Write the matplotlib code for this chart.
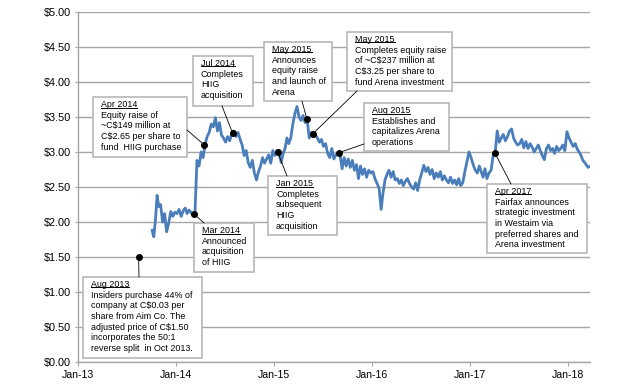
import numpy as np
import pandas as pd
import matplotlib
matplotlib.use("Agg")
import matplotlib.pyplot as plt
import matplotlib.dates as mdates
from matplotlib.patches import Rectangle
from matplotlib.lines import Line2D

plt.rcParams["font.family"] = ["Liberation Sans", "DejaVu Sans"]

LINE_COLOR = "#4a7ebb"
GRID_COLOR = "#a6a6a6"

# weekly-ish closing prices, one inner list per month
prices_2013 = [  # Oct - Dec
    [1.88, 1.79, 2.02, 2.38, 2.22], [2.25, 2.00, 2.12, 1.86], [1.98, 2.15, 2.08, 2.14],
]
prices_2014 = [
    [2.12, 2.18, 2.08, 2.16], [2.20, 2.12, 2.17, 2.14], [2.10, 2.11, 2.88, 2.80],
    [3.00, 2.92, 3.11, 3.22], [3.28, 3.40, 3.36, 3.49], [3.30, 3.42, 3.24, 3.20],
    [3.14, 3.22, 3.16, 3.27], [3.30, 3.22, 3.28, 3.18], [3.10, 2.95, 3.02, 2.85],
    [2.78, 2.88, 2.70, 2.60], [2.72, 2.80, 2.92, 2.84], [2.90, 2.96, 2.84, 3.02],
]
prices_2015 = [
    [2.95, 3.02, 2.98, 2.85], [2.98, 3.05, 3.20, 3.12], [3.20, 3.40, 3.55, 3.65],
    [3.50, 3.45, 3.52, 3.42], [3.47, 3.20, 3.28, 3.26], [3.24, 3.20, 3.14, 3.18],
    [3.08, 3.12, 2.98, 2.92], [3.05, 2.90, 2.96, 2.99], [2.95, 2.76, 2.92, 2.80],
    [2.90, 2.78, 2.88, 2.74], [2.82, 2.62, 2.80, 2.68], [2.76, 2.64, 2.74, 2.70],
]
prices_2016 = [
    [2.72, 2.62, 2.55, 2.48], [2.18, 2.42, 2.60, 2.68], [2.74, 2.64, 2.72, 2.60],
    [2.62, 2.55, 2.60, 2.52], [2.58, 2.62, 2.55, 2.50], [2.47, 2.56, 2.45, 2.60],
    [2.70, 2.81, 2.72, 2.78], [2.68, 2.75, 2.62, 2.70], [2.64, 2.72, 2.60, 2.66],
    [2.60, 2.56, 2.64, 2.55], [2.60, 2.53, 2.62, 2.52], [2.56, 2.72, 2.86, 3.00],
]
prices_2017 = [
    [2.92, 2.82, 2.74, 2.70], [2.80, 2.72, 2.64, 2.76], [2.62, 2.70, 2.74, 2.95],
    [3.00, 3.30, 3.14, 3.20], [3.25, 3.16, 3.22, 3.30], [3.33, 3.20, 3.14, 3.10],
    [3.12, 3.18, 3.06, 3.15], [3.05, 3.12, 3.07, 3.00], [3.05, 3.10, 3.02, 2.95],
    [2.89, 3.05, 3.10, 3.02], [3.05, 2.98, 3.08, 3.02], [3.05, 3.10, 3.02, 3.29],
]
prices_2018 = [  # Jan - Mar
    [3.20, 3.14, 3.08, 3.12], [3.04, 3.00, 2.95, 2.88], [2.84, 2.78, 2.80],
]

# events: (date, price, header, body)
events = [
    ("2013-08-15", 1.50, "Aug 2013", "Insiders purchase 44% of\ncompany at C$0.03 per\nshare from Aim Co. The\nadjusted price of C$1.50\nincorporates the 50:1\nreverse split  in Oct 2013."),
    ("2014-03-11", 2.11, "Mar 2014", "Announced\nacquisition\nof HIIG"),
    ("2014-04-17", 3.10, "Apr 2014", "Equity raise of\n~C$149 million at\nC$2.65 per share to\nfund  HIIG purchase"),
    ("2014-07-31", 3.27, "Jul 2014", "Completes\nHIIG\nacquisition"),
    ("2015-01-15", 3.00, "Jan 2015", "Completes\nsubsequent\nHIIG\nacquisition"),
    ("2015-05-04", 3.47, "May 2015", "Announces\nequity raise\nand launch of\nArena"),
    ("2015-05-26", 3.26, "May 2015", "Completes equity raise\nof ~C$237 million at\nC$3.25 per share to\nfund Arena investment"),
    ("2015-08-31", 2.99, "Aug 2015", "Establishes and\ncapitalizes Arena\noperations"),
    ("2017-04-03", 2.99, "Apr 2017", "Fairfax announces\nstrategic investment\nin Westaim via\npreferred shares and\nArena investment"),
]

# box (x0, y0, x1, y1) and leader anchor, in axes fraction
boxes = [
    ((0.0098, 0.0114, 0.2422, 0.2429), (0.1191, 0.2429)),
    ((0.2266, 0.2571, 0.3438, 0.3971), (0.2461, 0.3971)),
    ((0.0293, 0.5857, 0.2129, 0.7571), (0.2129, 0.6629)),
    ((0.2246, 0.7314, 0.3418, 0.8743), (0.2813, 0.7314)),
    ((0.3711, 0.3629, 0.5059, 0.5314), (0.4082, 0.5314)),
    ((0.3633, 0.7457, 0.4961, 0.9143), (0.4375, 0.7457)),
    ((0.5254, 0.7743, 0.7305, 0.9429), (0.5449, 0.7743)),
    ((0.5586, 0.6029, 0.7246, 0.7400), (0.5586, 0.6229)),
    ((0.7988, 0.3114, 0.9941, 0.5086), (0.8457, 0.5086)),
]


def month_dates(first_month, months):
    dates, vals = [], []
    start = pd.Timestamp(first_month)
    for k, week_vals in enumerate(months):
        m0 = start + pd.DateOffset(months=k)
        ndays = m0.days_in_month
        for i, v in enumerate(week_vals):
            dates.append(m0 + pd.Timedelta(days=(i + 0.5) * ndays / len(week_vals)))
            vals.append(v)
    return dates, vals


all_dates, all_vals = [], []
for first, chunk in [("2013-10-01", prices_2013), ("2014-01-01", prices_2014),
                     ("2015-01-01", prices_2015), ("2016-01-01", prices_2016),
                     ("2017-01-01", prices_2017), ("2018-01-01", prices_2018)]:
    d, v = month_dates(first, chunk)
    all_dates += d
    all_vals += v

fig = plt.figure(figsize=(6.24, 3.89), dpi=100)
ax = fig.add_axes([78 / 624, 27 / 389, 512 / 624, 350 / 389])

ax.plot(all_dates, all_vals, color=LINE_COLOR, lw=2.0, zorder=3, solid_joinstyle="round")

ax.set_ylim(0, 5)
ax.set_yticks(np.arange(0, 5.01, 0.5))
ax.set_yticklabels([f"${v:.2f}" for v in np.arange(0, 5.01, 0.5)], fontsize=7.8)
ax.set_xlim(pd.Timestamp("2013-01-01"), pd.Timestamp("2018-03-24"))
ax.set_xticks([pd.Timestamp(f"{y}-01-01") for y in range(2013, 2019)])
ax.xaxis.set_major_formatter(mdates.DateFormatter("%b-%y"))
ax.tick_params(axis="x", labelsize=7.6, length=3, color=GRID_COLOR, pad=3)
ax.tick_params(axis="y", length=2, color=GRID_COLOR, pad=3)
ax.grid(axis="y", color=GRID_COLOR, lw=1)
ax.set_axisbelow(True)
for s in ["top", "right"]:
    ax.spines[s].set_visible(False)
for s in ["left", "bottom"]:
    ax.spines[s].set_color(GRID_COLOR)
    ax.spines[s].set_linewidth(1)

headers = []
for (date, price, hdr, body), ((x0, y0, x1, y1), anchor) in zip(events, boxes):
    ax.add_patch(Rectangle((x0, y0), x1 - x0, y1 - y0, transform=ax.transAxes,
                           facecolor="white", edgecolor="#b8b8b8", lw=1.2, zorder=4))
    tx, ty = x0 + 8 / 512, y1 - 3 / 350
    ax.text(tx, ty, hdr + "\n" + body, transform=ax.transAxes, ha="left", va="top",
            fontsize=6.4, linespacing=1.24, zorder=5)
    h = ax.text(tx, ty, hdr, transform=ax.transAxes, ha="left", va="top",
                fontsize=6.4, linespacing=1.24, zorder=5, alpha=0)
    headers.append(h)
    ax.annotate("", xy=(pd.Timestamp(date), price), xycoords="data",
                xytext=anchor, textcoords="axes fraction",
                arrowprops=dict(arrowstyle="-", color="black", lw=0.6,
                                shrinkA=0, shrinkB=0), zorder=4.5)
    ax.plot(pd.Timestamp(date), price, "o", color="black", ms=4, zorder=6, clip_on=False)

fig.canvas.draw()
renderer = fig.canvas.get_renderer()
inv = fig.transFigure.inverted()
for h in headers:
    bb = h.get_window_extent(renderer)
    (fx0, fy0), (fx1, _) = inv.transform([(bb.x0, bb.y0 + 1.5), (bb.x1, bb.y0)])
    fig.add_artist(Line2D([fx0, fx1], [fy0, fy0], transform=fig.transFigure,
                          color="black", lw=0.7, zorder=10))

fig.savefig("out.png", dpi=100)
